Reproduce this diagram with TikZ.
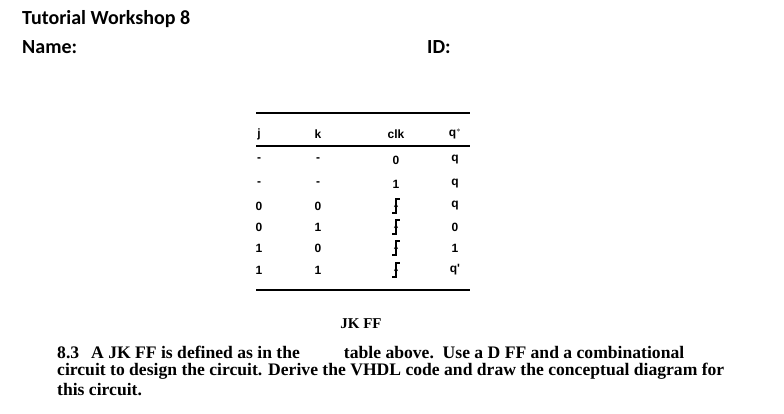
\documentclass[tikz,border=0pt]{standalone}
\usepackage{fontspec}
\setmainfont{Liberation Serif}
\newfontfamily\calfont{Carlito}
\newfontfamily\arifont{Liberation Sans}
\usetikzlibrary{arrows.meta}
\newcommand{\redge}{\tikz[baseline=0pt,x=1pt,y=1pt,line width=1.3pt]{\draw (-4,0)--(0,0)--(0,14)--(4,14); \draw[-{Stealth[length=4pt,width=4pt]}] (0,2)--(0,10);}}
\tikzset{
  ttl/.style={anchor=west,font=\calfont\bfseries\fontsize{20}{24}\selectfont,inner sep=0},
  cell/.style={font=\arifont\bfseries\fontsize{12}{14}\selectfont,inner sep=0},
  rule/.style={line width=1.2pt},
  par/.style={anchor=west,font=\bfseries\fontsize{17.6}{20}\selectfont,inner sep=0}
}
\begin{document}
\begin{tikzpicture}[x=1pt,y=-1pt]
\useasboundingbox (0,0) rectangle (784,414);
\node[ttl] (t1) at (22,19) {Tutorial Workshop 8};
\node[ttl] (t2) at (22,47) {Name:};
\node[ttl] (t3) at (427,47) {ID:};
\draw[rule] (256,113)--(470,113);
\draw[rule] (256,146)--(470,146);
\draw[rule] (256,290)--(470,290);
\node[cell] (hj) at (259,134) {j};
\node[cell] (hk) at (318,134) {k};
\node[cell] (hc) at (396,134) {clk};
\node[cell] (hq) at (455,134) {q$^{*}$};
\foreach \vj/\vk/\vc/\vq/\y/\n in {-/-/0/q/160/1, -/-/1/q/184/2, 0/0/E/q/206/3, 0/1/E/0/227/4, 1/0/E/1/248/5, 1/1/E/q'/270/6}{
  \node[cell] (j\n) at (259,\y) {\vj};
  \node[cell] (k\n) at (318,\y) {\vk};
  \node[cell] (c\n) at (396,\y) {\if E\vc\redge\else\vc\fi};
  \node[cell] (q\n) at (455,\y) {\vq};
}
\node[font=\bfseries\fontsize{15}{18}\selectfont,inner sep=0] (cap) at (361,324) {JK FF};
\node[par] (p1) at (57,352) {8.3\hspace{12pt}A JK FF is defined as in the\hspace{44pt}table above.\ \ Use a D FF and a combinational};
\node[par] (p2) at (57,371) {circuit to design the circuit. Derive the VHDL code and draw the conceptual diagram for};
\node[par] (p3) at (57,390) {this circuit.};
\end{tikzpicture}
\end{document}
